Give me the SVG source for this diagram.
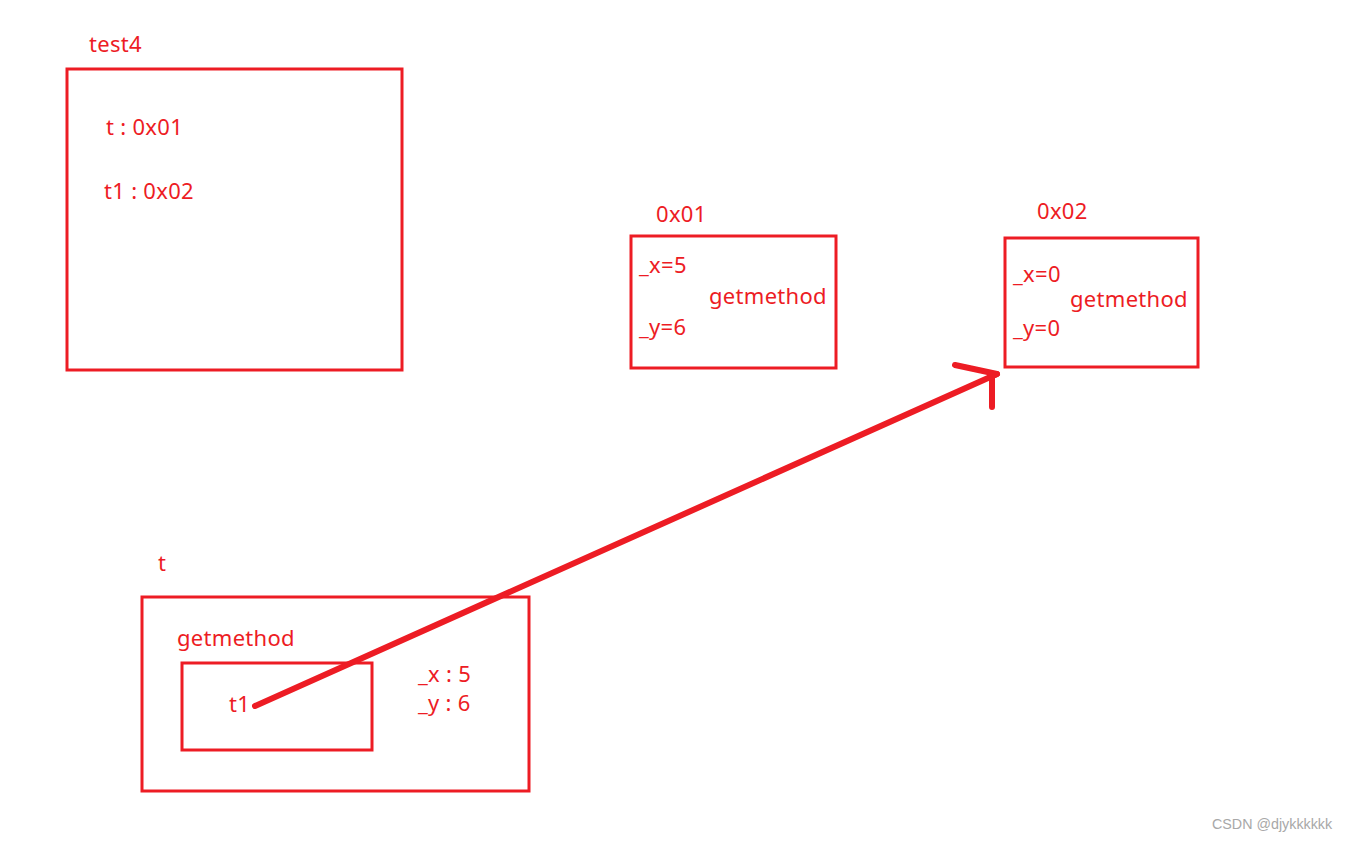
<svg xmlns="http://www.w3.org/2000/svg" width="1347" height="841" viewBox="0 0 1347 841">
<style>
.box{fill:none;stroke:#ED1C24;stroke-width:3}
.lbl{fill:#ED1C24;font-family:"Noto Sans","Open Sans","Liberation Sans",sans-serif;font-size:22px;letter-spacing:0.3px}
.wm{fill:#A8A8A8;font-family:"Liberation Sans",Arial,sans-serif;font-size:14.3px}
.arrow{fill:none;stroke:#ED1C24;stroke-width:6;stroke-linecap:round;stroke-linejoin:round}
</style>
<rect width="1347" height="841" fill="#FFFFFF"/>
<g id="test4">
<text class="lbl" x="89" y="52">test4</text>
<rect class="box" x="67" y="69" width="335" height="301"/>
<text class="lbl" x="106" y="135" xml:space="preserve">t : 0x01</text>
<text class="lbl" x="104" y="199" xml:space="preserve">t1 : 0x02</text>
</g>
<g id="obj01">
<text class="lbl" x="656" y="222">0x01</text>
<rect class="box" x="631" y="236" width="205" height="132"/>
<text class="lbl" x="639" y="273">_x=5</text>
<text class="lbl" x="709" y="304">getmethod</text>
<text class="lbl" x="639" y="335">_y=6</text>
</g>
<g id="obj02">
<text class="lbl" x="1037" y="219">0x02</text>
<rect class="box" x="1005" y="238" width="193" height="129"/>
<text class="lbl" x="1013" y="282">_x=0</text>
<text class="lbl" x="1070" y="307">getmethod</text>
<text class="lbl" x="1013" y="336">_y=0</text>
</g>
<g id="t">
<text class="lbl" x="158" y="571">t</text>
<rect class="box" x="142" y="597" width="387" height="194"/>
<text class="lbl" x="177" y="646">getmethod</text>
<text class="lbl" x="418" y="682">_x : 5</text>
<text class="lbl" x="418" y="711">_y : 6</text>
</g>
<g id="t1">
<rect class="box" x="182" y="663" width="190" height="87"/>
<text class="lbl" x="229" y="712">t1</text>
</g>
<g id="connectors">
<path class="arrow" d="M255,706 L997,374"/>
<path class="arrow" d="M955,365 L997,374 L992,376 L992,407"/>
</g>
<text class="wm" x="1212" y="829">CSDN @djykkkkkk</text>
</svg>
